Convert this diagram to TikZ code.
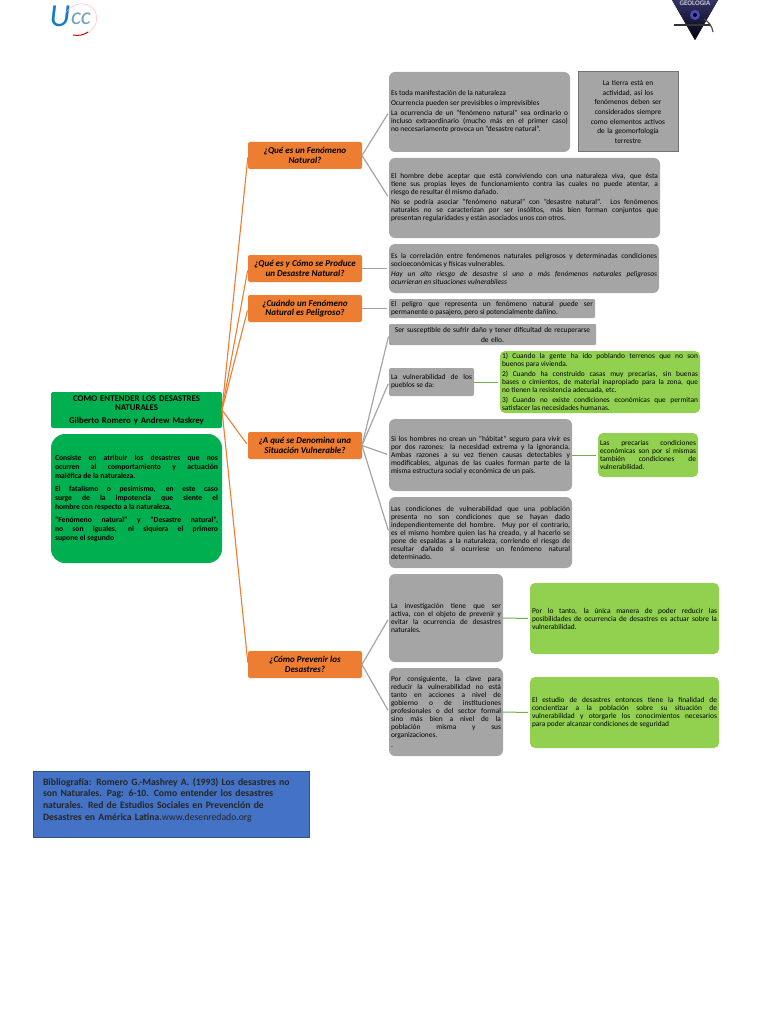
\documentclass[tikz,border=0pt]{standalone}
\usepackage{fontspec}
\setmainfont{Carlito}
\definecolor{naranja}{HTML}{ED7D31}
\definecolor{gris}{HTML}{A5A5A5}
\definecolor{verde}{HTML}{00B050}
\definecolor{verdeclaro}{HTML}{92D050}
\definecolor{verdelinea}{HTML}{70AD47}
\definecolor{azul}{HTML}{4472C4}
\newcommand{\parrafo}{\setlength{\parskip}{2pt}\tolerance=9999\emergencystretch=6pt\hyphenpenalty=10000\hbadness=10000\hfuzz=4pt}
\newcommand{\lb}{\linebreak}
\tikzset{
  caja/.style={anchor=north west, outer sep=0pt, inner xsep=2pt, inner ysep=0pt, align=justify, text=black,
    font=\fontsize{7.4}{8}\selectfont, execute at begin node=\parrafo},
  boxsize/.style n args={4}{at={(#1,#2)}, minimum width=#3pt, minimum height=#4pt, text width=#3pt-4pt},
  grisbox/.style={caja, fill=gris, rounded corners=6pt},
  verdebox/.style={caja, fill=verdeclaro, rounded corners=5pt},
  pregunta/.style={anchor=north west, outer sep=0pt, fill=naranja, rounded corners=2pt, align=center, text=black, inner sep=0pt,
    font=\fontsize{9}{9.4}\selectfont\bfseries\itshape, minimum width=114pt, minimum height=27pt},
  ramaroot/.style={naranja, line width=1.1pt, shorten >=2pt},
  ramagris/.style={gris, line width=1.2pt, shorten >=2pt},
  ramaverde/.style={verdelinea, line width=1pt, shorten >=2pt}
}
\begin{document}
\begin{tikzpicture}[x=1pt, y=-1pt]
\useasboundingbox (0,0) rectangle (768,1024);
% logos
\node[font=\itshape\fontsize{32}{32}\selectfont, text=cyan!60!blue, inner sep=0pt] (logou) at (60,16) {U};
\node[font=\itshape\fontsize{24}{24}\selectfont, text=cyan!40!gray, inner sep=0pt] (logocc) at (81,19) {cc};
\draw[red!30, line width=0.4pt] (87,33) .. controls (101,27) and (100,6) .. (84,4) .. controls (76,3) and (68,8) .. (65,14);
\draw[red!80!black, line width=1pt] (73,35) .. controls (79,36) and (84,35) .. (88,32);
\fill[top color=black!75!blue!80!white, bottom color=black!95!blue] (672,0) -- (718,0) -- (695,40) -- cycle;
\node[font=\bfseries\fontsize{7}{7}\selectfont, text=gray!40, inner sep=0pt] (logogeo) at (695,3.5) {GEOLOGIA};
\fill[blue!40!gray] (695,15) circle (5);
\fill[black!80!blue] (695,15) circle (2);
\draw[black!80, line width=1.6pt] (674,25) -- (710,25);
\draw[black!70, line width=1.2pt] (704,19) .. controls (709,22) and (712,26) .. (713,32);
% raiz
\node[anchor=north west, outer sep=0pt, fill=verde, rounded corners=2pt, inner sep=0pt, align=center, font=\fontsize{8.8}{9.5}\selectfont\bfseries,
  minimum width=171pt, minimum height=36pt, text width=165pt] (raiz) at (51,392)
  {COMO ENTENDER LOS DESASTRES\\NATURALES\\[3pt]Gilberto Romero y Andrew Maskrey};
\node[caja, fill=verde, rounded corners=14pt, inner xsep=4pt, font=\fontsize{7.6}{9.2}\selectfont\bfseries, minimum width=171pt, minimum height=129pt, text width=163pt] (resumen) at (51,434)
  {\setlength{\parskip}{3.5pt}Consiste en atribuir los desastres que nos\lb ocurren al comportamiento y actuación\lb maléfica de la naturaleza.\par
  El fatalismo o pesimismo, en este caso\lb surge de la impotencia que siente el\lb hombre con respecto a la naturaleza,\par
  "Fenómeno natural" y "Desastre natural",\lb no son iguales, ni siquiera el primero\lb supone el segundo};
% preguntas
\node[pregunta] (q1) at (248,142) {¿Qué es un Fenómeno\\Natural?};
\node[pregunta] (q2) at (248,255) {¿Qué es y Cómo se Produce\\un Desastre Natural?};
\node[pregunta] (q3) at (248,295) {¿Cuándo un Fenómeno\\Natural es Peligroso?};
\node[pregunta] (q4) at (248,432) {¿A qué se Denomina una\\Situación Vulnerable?};
\node[pregunta] (q5) at (248,651) {¿Cómo Prevenir los\\Desastres?};
% respuestas
\node[grisbox, boxsize={389}{72}{181}{80}] (a1)
  {Es toda manifestación de la naturaleza\par
  Ocurrencia pueden ser previsibles o imprevisibles\par
  La ocurrencia de un "fenómeno natural" sea ordinario o\lb incluso extraordinario (mucho más en el primer caso)\lb no necesariamente provoca un "desastre natural".};
\node[anchor=north west, outer sep=0pt, fill=gris, draw=gray!90!black, line width=1pt, inner sep=0pt, align=center, font=\fontsize{7.4}{9.7}\selectfont, minimum width=100pt, minimum height=80pt, text width=96pt] (a1b) at (578,72)
  {La tierra está en\\actividad, así los\\fenómenos deben ser\\considerados siempre\\como elementos activos\\de la geomorfología\\terrestre};
\node[grisbox, boxsize={389}{158}{271}{80}] (a2)
  {El hombre debe aceptar que está conviviendo con una naturaleza viva, que ésta\lb tiene sus propias leyes de funcionamiento contra las cuales no puede atentar, a\lb riesgo de resultar él mismo dañado.\par
  No se podría asociar "fenómeno natural" con "desastre natural". Los fenómenos\lb naturales no se caracterizan por ser insólitos, más bien forman conjuntos que\lb presentan regularidades y están asociados unos con otros.};
\node[grisbox, boxsize={389}{244}{270}{49}] (b1)
  {Es la correlación entre fenómenos naturales peligrosos y determinadas condiciones\lb socioeconómicas y físicas vulnerables.\par
  {\itshape Hay un alto riesgo de desastre si uno o más fenómenos naturales peligrosos\lb ocurrieran en situaciones vulnerabiless\par}};
\node[grisbox, rounded corners=1pt, boxsize={389}{299}{206}{19}] (c1)
  {El peligro que representa un fenómeno natural puede ser\lb permanente o pasajero, pero si potencialmente dañino.};
\node[grisbox, rounded corners=1pt, align=center, font=\fontsize{7.4}{10}\selectfont, boxsize={389}{324}{207}{21}] (d1)
  {Ser susceptible de sufrir daño y tener dificultad de recuperarse\\de ello.};
\node[grisbox, rounded corners=2pt, boxsize={389}{368}{85}{28}] (d2)
  {La vulnerabilidad de los\lb pueblos se da:};
\node[verdebox, boxsize={500}{351}{200}{62}] (d2v)
  {1) Cuando la gente ha ido poblando terrenos que no son\lb buenos para vivienda.\par
  2) Cuando ha construido casas muy precarias, sin buenas\lb bases o cimientos, de material inapropiado para la zona, que\lb no tienen la resistencia adecuada, etc.\par
  3) Cuando no existe condiciones económicas que permitan\lb satisfacer las necesidades humanas.};
\node[grisbox, boxsize={389}{419}{183}{72}] (d3)
  {Si los hombres no crean un "hábitat" seguro para vivir es\lb por dos razones: la necesidad extrema y la ignorancia.\lb Ambas razones a su vez tienen causas detectables y\lb modificables, algunas de las cuales forman parte de la\lb misma estructura social y económica de un país.};
\node[verdebox, boxsize={598}{433}{100}{44}] (d3v)
  {Las precarias condiciones\lb económicas son por sí mismas\lb también condiciones de\lb vulnerabilidad.};
\node[grisbox, boxsize={389}{497}{183}{71}] (d4)
  {Las condiciones de vulnerabilidad que una población\lb presenta no son condiciones que se hayan dado\lb independientemente del hombre. Muy por el contrario,\lb es el mismo hombre quien las ha creado, y al hacerlo se\lb pone de espaldas a la naturaleza, corriendo el riesgo de\lb resultar dañado si ocurriese un fenómeno natural\lb determinado.};
\node[grisbox, boxsize={389}{574}{114}{88}] (e1)
  {La investigación tiene que ser\lb activa, con el objeto de prevenir y\lb evitar la ocurrencia de desastres\lb naturales.};
\node[verdebox, boxsize={530}{583}{189}{71}] (e1v)
  {Por lo tanto, la única manera de poder reducir las\lb posibilidades de ocurrencia de desastres es actuar sobre la\lb vulnerabilidad.};
\node[grisbox, boxsize={389}{668}{114}{88}] (e2)
  {Por consiguiente, la clave para\lb reducir la vulnerabilidad no está\lb tanto en acciones a nivel de\lb gobierno o de instituciones\lb profesionales o del sector formal\lb sino más bien a nivel de la\lb población misma y sus\lb organizaciones.\par .};
\node[verdebox, boxsize={530}{677}{189}{71}] (e2v)
  {El estudio de desastres entonces tiene la finalidad de\lb concientizar a la población sobre su situación de\lb vulnerabilidad y otorgarle los conocimientos necesarios\lb para poder alcanzar condiciones de seguridad};
% bibliografia
\node[anchor=north west, outer sep=0pt, fill=azul, draw=azul!70!black, line width=0.8pt, inner sep=0pt, minimum width=276pt, minimum height=66pt, text width=256pt, align=left, font=\fontsize{9.7}{11.7}\selectfont\bfseries, text=black!85] (biblio) at (33,771)
  {Bibliografía: Romero G.-Mashrey A. (1993) Los desastres no\\son Naturales. Pag: 6-10. Como entender los desastres\\naturales. Red de Estudios Sociales en Prevención de\\Desastres en América Latina.{\mdseries www.desenredado.org}\\[-2pt]\mbox{}};
% conectores
\foreach \dest in {q1,q2,q3,q4,q5}
  \draw[ramaroot] (raiz.east) -- (\dest.west);
\foreach \orig/\dest in {q1/a1,q1/a2,q2/b1,q3/c1,q4/d1,q4/d2,q4/d3,q4/d4,q5/e1,q5/e2}
  \draw[ramagris] (\orig.east) -- (\dest.west);
\foreach \orig/\dest in {d2/d2v,d3/d3v,e1/e1v,e2/e2v}
  \draw[ramaverde] (\orig.east) -- (\dest.west);
\end{tikzpicture}
\end{document}
